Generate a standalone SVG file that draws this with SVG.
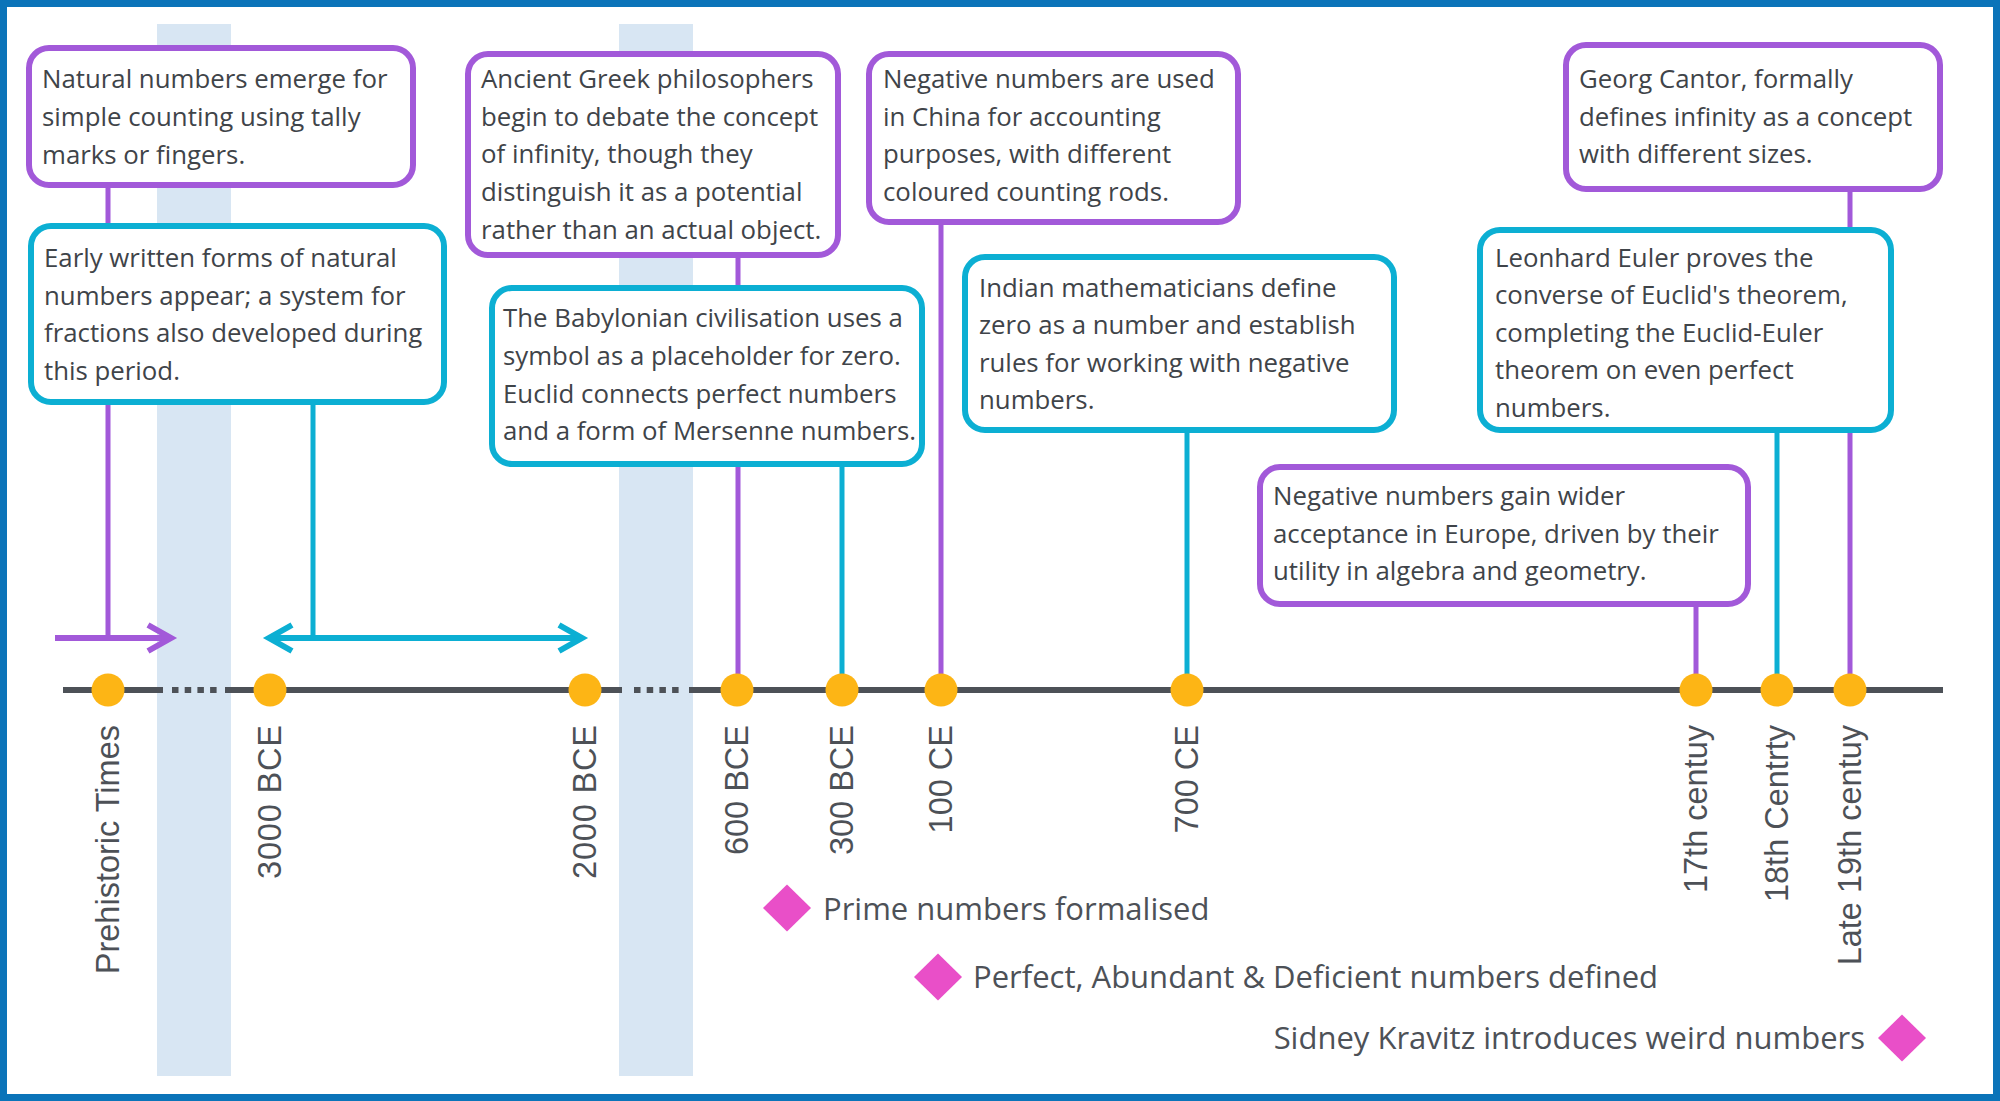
<svg xmlns="http://www.w3.org/2000/svg" width="2000" height="1101" viewBox="0 0 2000 1101">
<defs>
<style>
.bg{fill:#ffffff}
.frame{fill:none;stroke:#0b74b9;stroke-width:7}
.band{fill:#d8e6f3}
.axis{stroke:#4d5157;stroke-width:6;fill:none}
.dash{stroke:#4d5157;stroke-width:6;fill:none;stroke-dasharray:6.5 6.2}
.dot{fill:#fdb515}
.pbox{fill:#ffffff;stroke:#a259d9;stroke-width:6}
.tbox{fill:#ffffff;stroke:#0cafd3;stroke-width:6}
.pl{stroke:#a259d9;stroke-width:5;fill:none}
.tl{stroke:#0cafd3;stroke-width:5;fill:none}
.pa{stroke:#a259d9;stroke-width:6;fill:none;stroke-linejoin:miter}
.ta{stroke:#0cafd3;stroke-width:6;fill:none;stroke-linejoin:miter}
.bt{font-family:"Open Sans","Noto Sans",sans-serif;font-size:25.8px;fill:#3f4449}
.lab{font-family:"Liberation Sans",Arial,sans-serif;font-size:32.5px;fill:#4d5157}
.leg{font-family:"Open Sans","Noto Sans",sans-serif;font-size:31px;fill:#4d5157}
.dia{fill:#e94fc8}
</style>
</defs>
<rect class="bg" x="0" y="0" width="2000" height="1101"/>
<rect class="band" x="157" y="24" width="74" height="1052"/>
<rect class="band" x="619" y="24" width="74" height="1052"/>

<g id="connectors">
<line class="pl" x1="108" y1="188" x2="108" y2="638"/>
<line class="pa" x1="55" y1="638" x2="170" y2="638"/>
<polyline class="pa" points="148,625 171,638 148,651"/>
<line class="tl" x1="313" y1="405" x2="313" y2="638"/>
<line class="ta" x1="270" y1="638" x2="580" y2="638"/>
<polyline class="ta" points="292,625 269,638 292,651"/>
<polyline class="ta" points="559,625 582,638 559,651"/>
<line class="pl" x1="738" y1="258" x2="738" y2="690"/>
<line class="tl" x1="842" y1="467" x2="842" y2="690"/>
<line class="pl" x1="941" y1="225" x2="941" y2="690"/>
<line class="tl" x1="1187" y1="433" x2="1187" y2="690"/>
<line class="pl" x1="1696" y1="607" x2="1696" y2="690"/>
<line class="tl" x1="1777" y1="433" x2="1777" y2="690"/>
<line class="pl" x1="1850" y1="192" x2="1850" y2="690"/>
</g>

<g id="timeline">
<line class="axis" x1="63" y1="690" x2="163" y2="690"/>
<line class="dash" x1="172" y1="690" x2="217" y2="690"/>
<line class="axis" x1="225" y1="690" x2="622" y2="690"/>
<line class="dash" x1="634" y1="690" x2="679" y2="690"/>
<line class="axis" x1="689" y1="690" x2="1943" y2="690"/>
</g>

<g id="dots">
<circle class="dot" cx="108" cy="690" r="16.5"/>
<circle class="dot" cx="270" cy="690" r="16.5"/>
<circle class="dot" cx="585" cy="690" r="16.5"/>
<circle class="dot" cx="737" cy="690" r="16.5"/>
<circle class="dot" cx="842" cy="690" r="16.5"/>
<circle class="dot" cx="941" cy="690" r="16.5"/>
<circle class="dot" cx="1187" cy="690" r="16.5"/>
<circle class="dot" cx="1696" cy="690" r="16.5"/>
<circle class="dot" cx="1777" cy="690" r="16.5"/>
<circle class="dot" cx="1850" cy="690" r="16.5"/>
</g>

<g id="labels">
<text class="lab" text-anchor="end" transform="translate(119,725) rotate(-90)">Prehistoric Times</text>
<text class="lab" text-anchor="end" textLength="154" transform="translate(281,725) rotate(-90)">3000 BCE</text>
<text class="lab" text-anchor="end" textLength="154" transform="translate(596,725) rotate(-90)">2000 BCE</text>
<text class="lab" text-anchor="end" transform="translate(748,725) rotate(-90)">600 BCE</text>
<text class="lab" text-anchor="end" transform="translate(853,725) rotate(-90)">300 BCE</text>
<text class="lab" text-anchor="end" transform="translate(952,725) rotate(-90)">100 CE</text>
<text class="lab" text-anchor="end" transform="translate(1198,725) rotate(-90)">700 CE</text>
<text class="lab" text-anchor="end" transform="translate(1707,725) rotate(-90)">17th centuy</text>
<text class="lab" text-anchor="end" transform="translate(1788,725) rotate(-90)">18th Centrty</text>
<text class="lab" text-anchor="end" transform="translate(1861,725) rotate(-90)">Late 19th centuy</text>
</g>

<g id="node-natural">
<rect class="pbox" x="29" y="48" width="384" height="137" rx="20"/>
<text class="bt"><tspan x="42" y="88">Natural numbers emerge for</tspan><tspan x="42" y="126">simple counting using tally</tspan><tspan x="42" y="164">marks or fingers.</tspan></text>
</g>
<g id="node-early-written">
<rect class="tbox" x="31" y="226" width="413" height="176" rx="20"/>
<text class="bt"><tspan x="44" y="267">Early written forms of natural</tspan><tspan x="44" y="305">numbers appear; a system for</tspan><tspan x="44" y="342">fractions also developed during</tspan><tspan x="44" y="380">this period.</tspan></text>
</g>
<g id="node-greek">
<rect class="pbox" x="468" y="54" width="370" height="201" rx="20"/>
<text class="bt"><tspan x="481" y="88">Ancient Greek philosophers</tspan><tspan x="481" y="126">begin to debate the concept</tspan><tspan x="481" y="163">of infinity, though they</tspan><tspan x="481" y="201">distinguish it as a potential</tspan><tspan x="481" y="239">rather than an actual object.</tspan></text>
</g>
<g id="node-babylonian">
<rect class="tbox" x="492" y="288" width="430" height="176" rx="20"/>
<text class="bt"><tspan x="503" y="327">The Babylonian civilisation uses a</tspan><tspan x="503" y="365">symbol as a placeholder for zero.</tspan><tspan x="503" y="403">Euclid connects perfect numbers</tspan><tspan x="503" y="440">and a form of Mersenne numbers.</tspan></text>
</g>
<g id="node-china">
<rect class="pbox" x="869" y="54" width="369" height="168" rx="20"/>
<text class="bt"><tspan x="883" y="88">Negative numbers are used</tspan><tspan x="883" y="126">in China for accounting</tspan><tspan x="883" y="163">purposes, with different</tspan><tspan x="883" y="201">coloured counting rods.</tspan></text>
</g>
<g id="node-indian">
<rect class="tbox" x="965" y="257" width="429" height="173" rx="20"/>
<text class="bt"><tspan x="979" y="297">Indian mathematicians define</tspan><tspan x="979" y="334">zero as a number and establish</tspan><tspan x="979" y="372">rules for working with negative</tspan><tspan x="979" y="409">numbers.</tspan></text>
</g>
<g id="node-cantor">
<rect class="pbox" x="1566" y="45" width="374" height="144" rx="20"/>
<text class="bt"><tspan x="1579" y="88">Georg Cantor, formally</tspan><tspan x="1579" y="126">defines infinity as a concept</tspan><tspan x="1579" y="163">with different sizes.</tspan></text>
</g>
<g id="node-euler">
<rect class="tbox" x="1480" y="230" width="411" height="200" rx="20"/>
<text class="bt"><tspan x="1495" y="267">Leonhard Euler proves the</tspan><tspan x="1495" y="304">converse of Euclid's theorem,</tspan><tspan x="1495" y="342">completing the Euclid-Euler</tspan><tspan x="1495" y="379">theorem on even perfect</tspan><tspan x="1495" y="417">numbers.</tspan></text>
</g>
<g id="node-europe">
<rect class="pbox" x="1260" y="467" width="488" height="137" rx="20"/>
<text class="bt"><tspan x="1273" y="505">Negative numbers gain wider</tspan><tspan x="1273" y="543">acceptance in Europe, driven by their</tspan><tspan x="1273" y="580">utility in algebra and geometry.</tspan></text>
</g>

<g id="legend">
<polygon class="dia" points="787,884.5 811,908 787,931.5 763,908"/>
<text class="leg" x="823" y="920">Prime numbers formalised</text>
<polygon class="dia" points="938,953.5 962,977 938,1000.5 914,977"/>
<text class="leg" x="973" y="988">Perfect, Abundant &amp; Deficient numbers defined</text>
<polygon class="dia" points="1902,1014.5 1926,1038 1902,1061.5 1878,1038"/>
<text class="leg" x="1865" y="1049" text-anchor="end">Sidney Kravitz introduces weird numbers</text>
</g>

<rect class="frame" x="3.5" y="3.5" width="1993" height="1094"/>
</svg>
